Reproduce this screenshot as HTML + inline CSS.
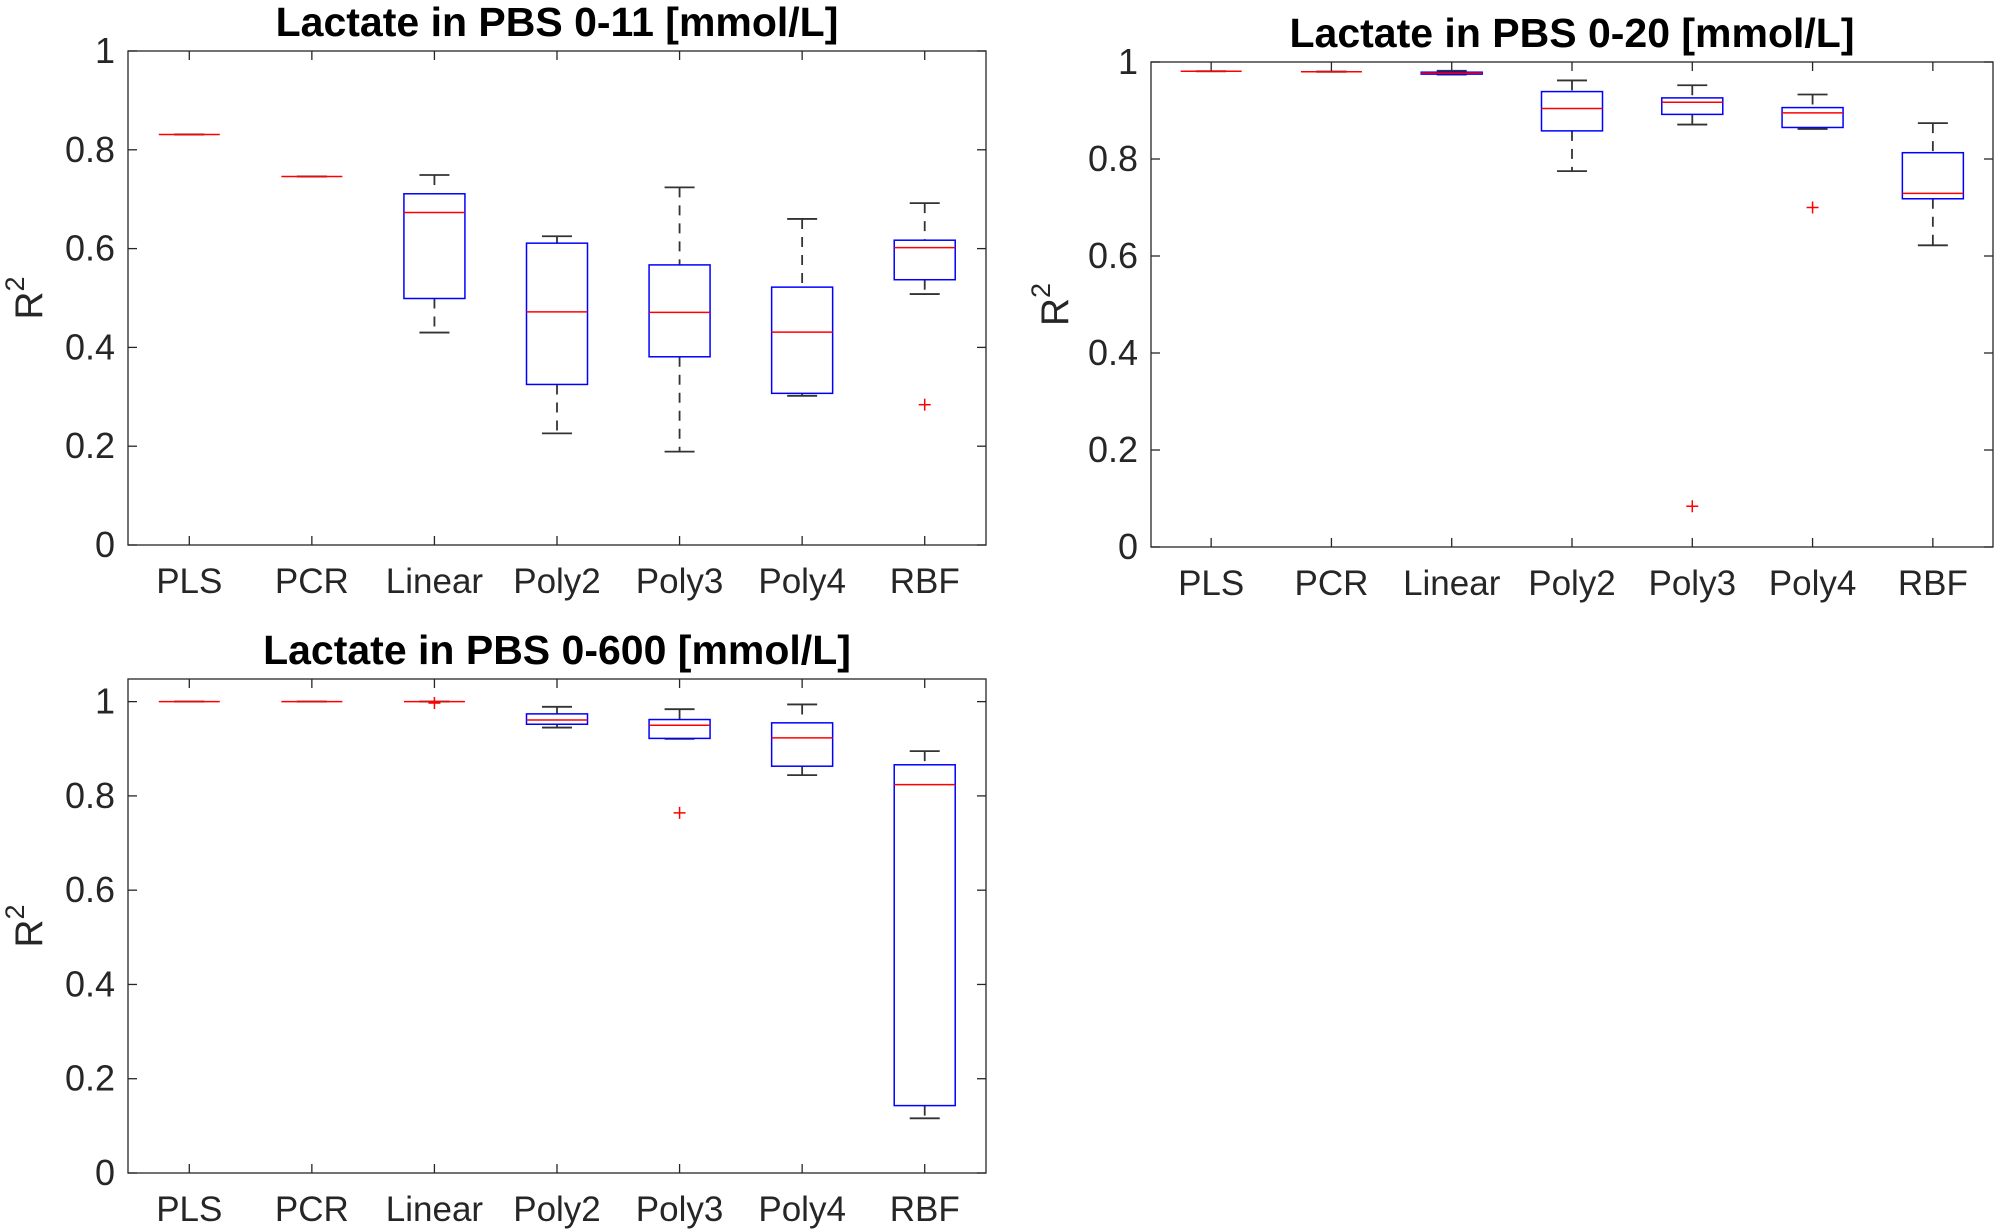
<!DOCTYPE html>
<html><head><meta charset="utf-8"><style>
html,body{margin:0;padding:0;background:#fff;}
svg{display:block;font-family:"Liberation Sans",Arial,sans-serif;}
</style></head><body>
<svg id="fig" width="1995" height="1232" viewBox="0 0 1995 1232" xmlns="http://www.w3.org/2000/svg"></svg>
<script>
const categories = ["PLS","PCR","Linear","Poly2","Poly3","Poly4","RBF"];
const yTicks = [0,0.2,0.4,0.6,0.8,1];
const yTickLabels = ["0","0.2","0.4","0.6","0.8","1"];

// Chart 1: Lactate in PBS 0-11
const c1Lo  = [0.831,0.746,0.430,0.226,0.189,0.302,0.508];
const c1Q1  = [0.831,0.746,0.499,0.325,0.381,0.307,0.537];
const c1Med = [0.831,0.746,0.673,0.472,0.471,0.431,0.602];
const c1Q3  = [0.831,0.746,0.711,0.611,0.567,0.522,0.617];
const c1Hi  = [0.831,0.746,0.749,0.625,0.724,0.660,0.692];
const c1Out = [[],[],[],[],[],[],[0.284]];

// Chart 2: Lactate in PBS 0-20
const c2Lo  = [0.981,0.980,0.974,0.775,0.871,0.862,0.622];
const c2Q1  = [0.981,0.980,0.975,0.858,0.892,0.865,0.718];
const c2Med = [0.981,0.980,0.977,0.904,0.917,0.895,0.729];
const c2Q3  = [0.981,0.980,0.979,0.939,0.926,0.906,0.813];
const c2Hi  = [0.981,0.980,0.982,0.962,0.952,0.933,0.874];
const c2Out = [[],[],[],[],[0.084],[0.700],[]];

// Chart 3: Lactate in PBS 0-600
const c3Lo  = [1.0,1.0,1.0,0.945,0.921,0.844,0.116];
const c3Q1  = [1.0,1.0,1.0,0.952,0.922,0.863,0.143];
const c3Med = [1.0,1.0,1.0,0.961,0.950,0.923,0.824];
const c3Q3  = [1.0,1.0,1.0,0.974,0.962,0.955,0.866];
const c3Hi  = [1.0,1.0,1.0,0.989,0.984,0.994,0.895];
const c3Out = [[],[],[0.997],[],[0.764],[],[]];

const NS = "http://www.w3.org/2000/svg";
const fig = document.getElementById("fig");
function mk(tag, attrs, parent, text){
  const e = document.createElementNS(NS, tag);
  for (const k in attrs) e.setAttribute(k, attrs[k]);
  if (text !== undefined) e.textContent = text;
  (parent||fig).appendChild(e);
  return e;
}

function drawChart(cfg, lo, q1, med, q3, hi, outs){
  const g = mk("g", {});
  
  
  const {L,R,T,B,yMax} = cfg;
  const xs = i => L + (i + 0.5) * (R - L) / categories.length;
  const ys = v => B - v / yMax * (B - T);
  const t = mk("text", {x:(L+R)/2, y:T-15, "text-anchor":"middle", "font-size":41, "font-weight":"bold", fill:"#000"}, g, cfg.title);
  
  
  yTicks.forEach((v,i)=>{
    const y = ys(v);
    mk("line",{x1:L,x2:L+9,y1:y,y2:y,stroke:"#262626","stroke-width":1.3},g);
    mk("line",{x1:R-9,x2:R,y1:y,y2:y,stroke:"#262626","stroke-width":1.3},g);
    const lb = mk("text",{x:L-13,y:y+12,"text-anchor":"end","font-size":36,fill:"#262626"},g,yTickLabels[i]);
    
    
  });
  categories.forEach((c,i)=>{
    const x = xs(i);
    mk("line",{x1:x,x2:x,y1:B,y2:B-9,stroke:"#262626","stroke-width":1.3},g);
    mk("line",{x1:x,x2:x,y1:T,y2:T+9,stroke:"#262626","stroke-width":1.3},g);
    const lb = mk("text",{x:x,y:B+48,"text-anchor":"middle","font-size":35,fill:"#262626"},g,c);
    
    
  });
  const yl = mk("text",{x:0,y:0,"font-size":39,fill:"#262626","text-anchor":"middle",transform:`translate(${cfg.ylx},${(T+B)/2}) rotate(-90)`},g);
  
  
  mk("tspan",{},yl,"R");
  mk("tspan",{"font-size":27,dy:-18},yl,"2");
  const bw = 61, cw = 30;
  categories.forEach((c,i)=>{
    const x = xs(i);
    const bg = mk("g",{},g);
    
    
    mk("line",{x1:x,x2:x,y1:ys(hi[i]),y2:ys(q3[i]),stroke:"#333","stroke-width":1.8,"stroke-dasharray":"10 8"},bg);
    mk("line",{x1:x,x2:x,y1:ys(q1[i]),y2:ys(lo[i]),stroke:"#333","stroke-width":1.8,"stroke-dasharray":"10 8"},bg);
    mk("line",{x1:x-cw/2,x2:x+cw/2,y1:ys(hi[i]),y2:ys(hi[i]),stroke:"#333","stroke-width":1.8},bg);
    mk("line",{x1:x-cw/2,x2:x+cw/2,y1:ys(lo[i]),y2:ys(lo[i]),stroke:"#333","stroke-width":1.8},bg);
    mk("rect",{x:x-bw/2,y:ys(q3[i]),width:bw,height:Math.max(0,ys(q1[i])-ys(q3[i])),fill:"none",stroke:"#0000ff","stroke-width":1.5},bg);
    mk("line",{x1:x-bw/2,x2:x+bw/2,y1:ys(med[i]),y2:ys(med[i]),stroke:"#ff0000","stroke-width":1.5},bg);
    outs[i].forEach(v=>{
      const y = ys(v);
      const o = mk("g",{},bg);
      
      
      mk("line",{x1:x-6,x2:x+6,y1:y,y2:y,stroke:"#ff0000","stroke-width":1.5},o);
      mk("line",{x1:x,x2:x,y1:y-6,y2:y+6,stroke:"#ff0000","stroke-width":1.5},o);
    });
  });
  mk("rect",{x:L,y:T,width:R-L,height:B-T,fill:"none",stroke:"#262626","stroke-width":1.3},g);
}

drawChart({name:"chart-0-11",title:"Lactate in PBS 0-11 [mmol/L]",L:128,R:986,T:51,B:545,yMax:1,ylx:42},c1Lo,c1Q1,c1Med,c1Q3,c1Hi,c1Out);
drawChart({name:"chart-0-20",title:"Lactate in PBS 0-20 [mmol/L]",L:1151,R:1993,T:62,B:547,yMax:1,ylx:1068},c2Lo,c2Q1,c2Med,c2Q3,c2Hi,c2Out);
drawChart({name:"chart-0-600",title:"Lactate in PBS 0-600 [mmol/L]",L:128,R:986,T:679,B:1173,yMax:1.048,ylx:42},c3Lo,c3Q1,c3Med,c3Q3,c3Hi,c3Out);
</script>
</body></html>
